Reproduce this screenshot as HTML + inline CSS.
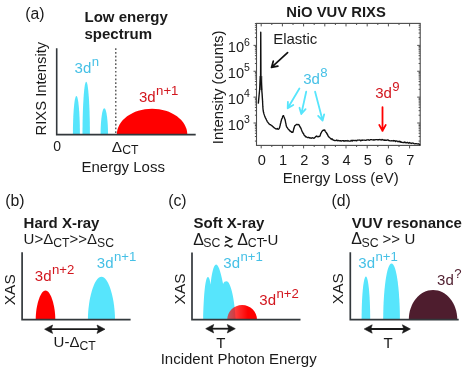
<!DOCTYPE html>
<html><head><meta charset="utf-8">
<style>
html,body{margin:0;padding:0;background:#fff;width:463px;height:371px;overflow:hidden}
svg{display:block;font-family:"Liberation Sans",sans-serif}
svg{fill:#1a1a1a;will-change:transform}
</style></head><body>
<svg width="463" height="371" viewBox="0 0 463 371">
<text x="25.2" y="19.2" font-size="15.8">(a)</text>
<text x="84.5" y="22.4" font-size="15" font-weight="bold">Low energy</text>
<text x="84.5" y="38.7" font-size="15" font-weight="bold">spectrum</text>
<text transform="translate(45.5,135.5) rotate(-90)" font-size="14.8">RIXS Intensity</text>
<path d="M72.90,134.50 C72.90,115.30 74.30,96.10 76.40,96.10 C78.50,96.10 79.90,115.30 79.90,134.50 Z" fill="#57e5fc"/>
<path d="M82.50,134.50 C82.50,108.10 83.98,81.70 86.20,81.70 C88.42,81.70 89.90,108.10 89.90,134.50 Z" fill="#57e5fc"/>
<path d="M100.60,134.50 C100.60,121.40 102.08,108.30 104.30,108.30 C106.52,108.30 108.00,121.40 108.00,134.50 Z" fill="#57e5fc"/>
<path d="M116.80,134.50 C116.80,120.25 132.58,108.70 152.05,108.70 C171.52,108.70 187.30,120.25 187.30,134.50 Z" fill="#ff0000"/>
<path d="M115.8,48.2 V134" stroke="#3a3a3a" stroke-width="1.2" stroke-dasharray="1.7,2.08"/>
<path d="M56.7,48.3 V134.6 H195.7" stroke="#33383c" stroke-width="1.6" fill="none"/>
<text x="74.6" y="72.6" font-size="15" fill="#45c0e6">3d<tspan font-size="13.2" dx="0.4" dy="-7">n</tspan></text>
<text x="139" y="102.2" font-size="15" fill="#d2161e">3d<tspan font-size="13.2" dx="0.4" dy="-7">n+1</tspan></text>
<text x="53.3" y="151.2" font-size="14">0</text>
<text x="111.8" y="151.6" font-size="15.5">Δ<tspan font-size="12.2" dy="2.8">CT</tspan></text>
<text x="81.5" y="171.5" font-size="15">Energy Loss</text>
<text x="286.3" y="16.8" font-size="14.8" font-weight="bold">NiO VUV RIXS</text>
<text transform="translate(223.1,144.2) rotate(-90)" font-size="14.95">Intensity (counts)</text>
<text x="227.8" y="129.60" font-size="14.6">10<tspan font-size="10.5" dy="-6.4">3</tspan></text>
<text x="227.8" y="103.73" font-size="14.6">10<tspan font-size="10.5" dy="-6.4">4</tspan></text>
<text x="227.8" y="77.86" font-size="14.6">10<tspan font-size="10.5" dy="-6.4">5</tspan></text>
<text x="227.8" y="51.99" font-size="14.6">10<tspan font-size="10.5" dy="-6.4">6</tspan></text>
<path d="M261.20,145.40 v3.00 M261.20,23.40 v3.00 M271.80,145.40 v1.60 M271.80,23.40 v1.60 M282.40,145.40 v3.00 M282.40,23.40 v3.00 M293.00,145.40 v1.60 M293.00,23.40 v1.60 M303.60,145.40 v3.00 M303.60,23.40 v3.00 M314.20,145.40 v1.60 M314.20,23.40 v1.60 M324.80,145.40 v3.00 M324.80,23.40 v3.00 M335.40,145.40 v1.60 M335.40,23.40 v1.60 M346.00,145.40 v3.00 M346.00,23.40 v3.00 M356.60,145.40 v1.60 M356.60,23.40 v1.60 M367.20,145.40 v3.00 M367.20,23.40 v3.00 M377.80,145.40 v1.60 M377.80,23.40 v1.60 M388.40,145.40 v3.00 M388.40,23.40 v3.00 M399.00,145.40 v1.60 M399.00,23.40 v1.60 M409.60,145.40 v3.00 M409.60,23.40 v3.00 M256.50,141.08 h-1.60 M420.20,141.08 h-1.60 M256.50,136.53 h-1.60 M420.20,136.53 h-1.60 M256.50,133.29 h-1.60 M420.20,133.29 h-1.60 M256.50,130.79 h-1.60 M420.20,130.79 h-1.60 M256.50,128.74 h-1.60 M420.20,128.74 h-1.60 M256.50,127.01 h-1.60 M420.20,127.01 h-1.60 M256.50,125.51 h-1.60 M420.20,125.51 h-1.60 M256.50,124.18 h-1.60 M420.20,124.18 h-1.60 M256.50,123.00 h-3.00 M420.20,123.00 h-3.00 M256.50,115.21 h-1.60 M420.20,115.21 h-1.60 M256.50,110.66 h-1.60 M420.20,110.66 h-1.60 M256.50,107.42 h-1.60 M420.20,107.42 h-1.60 M256.50,104.92 h-1.60 M420.20,104.92 h-1.60 M256.50,102.87 h-1.60 M420.20,102.87 h-1.60 M256.50,101.14 h-1.60 M420.20,101.14 h-1.60 M256.50,99.64 h-1.60 M420.20,99.64 h-1.60 M256.50,98.31 h-1.60 M420.20,98.31 h-1.60 M256.50,97.13 h-3.00 M420.20,97.13 h-3.00 M256.50,89.34 h-1.60 M420.20,89.34 h-1.60 M256.50,84.79 h-1.60 M420.20,84.79 h-1.60 M256.50,81.55 h-1.60 M420.20,81.55 h-1.60 M256.50,79.05 h-1.60 M420.20,79.05 h-1.60 M256.50,77.00 h-1.60 M420.20,77.00 h-1.60 M256.50,75.27 h-1.60 M420.20,75.27 h-1.60 M256.50,73.77 h-1.60 M420.20,73.77 h-1.60 M256.50,72.44 h-1.60 M420.20,72.44 h-1.60 M256.50,71.26 h-3.00 M420.20,71.26 h-3.00 M256.50,63.47 h-1.60 M420.20,63.47 h-1.60 M256.50,58.92 h-1.60 M420.20,58.92 h-1.60 M256.50,55.68 h-1.60 M420.20,55.68 h-1.60 M256.50,53.18 h-1.60 M420.20,53.18 h-1.60 M256.50,51.13 h-1.60 M420.20,51.13 h-1.60 M256.50,49.40 h-1.60 M420.20,49.40 h-1.60 M256.50,47.90 h-1.60 M420.20,47.90 h-1.60 M256.50,46.57 h-1.60 M420.20,46.57 h-1.60 M256.50,45.39 h-3.00 M420.20,45.39 h-3.00 M256.50,37.60 h-1.60 M420.20,37.60 h-1.60 M256.50,33.05 h-1.60 M420.20,33.05 h-1.60 M256.50,29.81 h-1.60 M420.20,29.81 h-1.60 M256.50,27.31 h-1.60 M420.20,27.31 h-1.60 M256.50,25.26 h-1.60 M420.20,25.26 h-1.60 M256.50,23.53 h-1.60 M420.20,23.53 h-1.60" stroke="#505050" stroke-width="1" fill="none"/>
<rect x="256.50" y="23.40" width="163.70" height="122.00" fill="none" stroke="#4a4a4a" stroke-width="1.1"/>
<text x="261.80" y="164.9" font-size="14.6" text-anchor="middle">0</text>
<text x="283.00" y="164.9" font-size="14.6" text-anchor="middle">1</text>
<text x="304.20" y="164.9" font-size="14.6" text-anchor="middle">2</text>
<text x="325.40" y="164.9" font-size="14.6" text-anchor="middle">3</text>
<text x="346.60" y="164.9" font-size="14.6" text-anchor="middle">4</text>
<text x="367.80" y="164.9" font-size="14.6" text-anchor="middle">5</text>
<text x="389.00" y="164.9" font-size="14.6" text-anchor="middle">6</text>
<text x="410.20" y="164.9" font-size="14.6" text-anchor="middle">7</text>
<text x="282.8" y="182.6" font-size="15">Energy Loss (eV)</text>
<path d="M259.2,76 L262.4,76 L262.6,90 L259.4,90 Z" fill="#8a8a8a"/>
<path d="M258.3,103.6 L259.6,90 L260.6,76 L260.75,32.2 L260.95,76 L261.6,88 L262.1,94 L262.5,100" stroke="#111" stroke-width="1.4" fill="none" stroke-linejoin="round"/>
<path d="M262.50,99.92 L262.52,100.36 L262.54,100.75 L262.57,101.32 L262.59,101.90 L262.62,102.36 L262.65,103.00 L262.68,103.95 L262.72,104.49 L262.76,105.21 L262.80,106.17 L262.84,106.72 L262.89,107.53 L262.94,108.09 L262.99,108.76 L263.04,109.19 L263.10,109.84 L263.21,110.71 L263.33,111.32 L263.45,112.02 L263.59,112.59 L263.73,112.96 L263.88,113.69 L264.04,114.16 L264.22,114.60 L264.40,115.06 L264.62,115.94 L264.87,116.45 L265.13,117.14 L265.41,117.79 L265.68,118.33 L265.96,118.96 L266.24,119.35 L266.50,119.99 L266.83,120.54 L267.15,121.31 L267.46,121.88 L267.79,122.20 L268.13,122.72 L268.50,123.22 L269.00,123.93 L269.53,124.18 L270.09,124.68 L270.65,124.74 L271.20,125.31 L271.74,125.61 L272.28,125.99 L272.82,126.62 L273.36,127.01 L273.90,127.66 L274.44,127.82 L274.98,128.39 L275.52,128.64 L276.06,129.01 L276.60,128.85 L277.29,128.53 L277.99,129.22 L278.67,129.11 L279.30,128.36 L279.49,127.67 L279.67,127.32 L279.85,126.30 L280.02,126.23 L280.18,125.32 L280.34,124.36 L280.50,123.44 L280.66,123.43 L280.82,122.86 L280.97,121.38 L281.14,121.41 L281.30,120.52 L281.55,119.51 L281.81,118.86 L282.07,118.53 L282.33,117.91 L282.58,116.54 L282.83,116.55 L283.07,115.67 L283.30,116.10 L283.59,115.80 L283.86,116.63 L284.11,117.28 L284.37,117.58 L284.63,118.86 L284.90,119.13 L285.04,119.41 L285.17,120.43 L285.30,120.53 L285.43,121.32 L285.56,122.19 L285.69,123.06 L285.83,123.35 L285.98,123.93 L286.14,125.33 L286.31,125.45 L286.50,126.60 L286.70,127.06 L287.04,127.27 L287.43,127.96 L287.85,128.58 L288.29,129.20 L288.74,129.63 L289.18,130.02 L289.61,130.46 L290.00,131.10 L290.59,131.27 L291.15,131.75 L291.69,132.40 L292.21,132.11 L292.70,131.92 L292.93,132.20 L293.15,131.31 L293.36,130.72 L293.55,129.54 L293.75,129.16 L293.95,128.55 L294.14,127.30 L294.35,127.16 L294.57,126.58 L294.80,125.60 L295.30,125.44 L295.84,124.82 L296.40,124.70 L296.96,124.27 L297.50,124.59 L298.03,124.78 L298.57,124.48 L299.10,125.01 L299.61,126.17 L300.10,127.12 L300.38,126.97 L300.65,127.72 L300.90,128.46 L301.14,128.86 L301.39,129.57 L301.64,130.19 L301.91,130.88 L302.20,131.69 L302.51,132.01 L302.83,132.67 L303.17,133.62 L303.51,133.53 L303.86,134.57 L304.21,135.24 L304.56,135.32 L304.90,135.65 L305.38,136.69 L305.80,136.56 L306.25,136.79 L306.82,137.24 L307.60,137.68 L308.11,137.24 L308.70,137.53 L309.36,137.62 L310.07,138.15 L310.80,137.85 L311.53,138.27 L312.24,137.67 L312.90,137.83 L313.49,138.09 L314.00,138.25 L314.78,137.62 L315.35,137.03 L315.80,136.50 L316.22,136.47 L316.70,135.92 L317.39,136.52 L318.08,136.82 L318.76,136.42 L319.40,136.30 L319.70,136.44 L319.98,135.80 L320.25,135.37 L320.52,134.31 L320.78,133.45 L321.05,132.96 L321.32,132.84 L321.60,131.89 L322.07,131.32 L322.54,130.79 L323.02,130.31 L323.51,129.99 L324.00,130.38 L324.41,129.84 L324.82,130.02 L325.23,131.32 L325.65,131.81 L326.07,132.51 L326.50,132.64 L326.79,133.56 L327.08,134.07 L327.37,134.00 L327.66,135.07 L327.95,135.75 L328.26,136.18 L328.56,136.61 L328.88,136.89 L329.20,137.36 L329.69,137.75 L330.19,137.99 L330.70,138.76 L331.23,138.74 L331.80,139.44 L332.40,138.99 L332.94,139.97 L333.48,139.97 L334.05,140.35 L334.65,140.48 L335.28,140.63 L335.96,140.46 L336.70,140.06 L337.26,140.78 L337.85,140.32 L338.48,140.48 L339.13,140.84 L339.79,140.74 L340.47,140.66 L341.16,141.15 L341.85,140.87 L342.53,140.64 L343.20,140.58 L343.79,141.14 L344.37,140.80 L344.95,141.09 L345.52,140.71 L346.09,140.57 L346.68,140.88 L347.28,141.13 L347.91,140.54 L348.56,141.09 L349.26,141.20 L350.00,141.08 L350.54,141.08 L351.10,140.33 L351.68,140.87 L352.28,141.05 L352.89,140.30 L353.52,140.47 L354.15,140.44 L354.80,140.65 L355.45,140.53 L356.11,140.54 L356.77,140.79 L357.43,140.06 L358.08,140.08 L358.73,140.12 L359.37,140.09 L360.00,140.01 L360.63,140.80 L361.27,140.67 L361.92,139.95 L362.57,140.30 L363.23,140.11 L363.88,140.08 L364.54,140.09 L365.19,140.33 L365.83,140.25 L366.47,140.02 L367.10,139.84 L367.71,139.94 L368.31,139.73 L368.89,140.10 L369.46,140.22 L370.00,139.89 L370.75,139.59 L371.44,139.64 L372.10,139.78 L372.72,139.95 L373.33,140.08 L373.92,139.68 L374.51,140.03 L375.10,139.85 L375.71,139.66 L376.34,139.59 L377.00,139.70 L377.59,139.88 L378.19,139.64 L378.80,139.89 L379.42,139.70 L380.05,139.52 L380.68,139.81 L381.32,139.98 L381.95,139.44 L382.58,139.79 L383.20,139.82 L383.81,140.27 L384.41,140.36 L385.00,139.89 L385.67,140.41 L386.32,140.36 L386.95,139.94 L387.58,140.18 L388.19,139.93 L388.81,140.61 L389.42,140.55 L390.05,140.82 L390.68,140.81 L391.33,140.77 L392.00,140.91 L392.58,140.83 L393.16,140.49 L393.74,141.00 L394.32,140.56 L394.91,140.77 L395.51,141.42 L396.12,140.85 L396.73,140.98 L397.36,141.08 L398.00,141.87 L398.65,141.33 L399.32,141.28 L400.00,142.11 L400.57,141.53 L401.15,142.25 L401.75,142.17 L402.36,142.39 L402.98,142.57 L403.60,142.31 L404.24,142.58 L404.88,141.97 L405.52,142.70 L406.16,142.55 L406.81,142.81 L407.45,142.34 L408.10,142.99 L408.74,143.24 L409.37,142.53 L410.00,142.84 L410.64,143.14 L411.32,143.46 L412.02,143.02 L412.73,143.06 L413.46,143.22 L414.19,143.64 L414.91,143.86 L415.62,143.63 L416.32,143.70 L416.98,143.81 L417.61,143.85 L418.20,143.99 L418.74,143.76 L419.23,144.20 L419.65,144.68 L420.00,144.22" stroke="#111" stroke-width="1.35" fill="none" stroke-linejoin="round"/>
<text x="273.2" y="44.3" font-size="15">Elastic</text>
<path d="M287.60,52.60 L271.50,67.40 M273.28,61.15 L271.50,67.40 L277.88,66.15" stroke="#111" stroke-width="1.70" fill="none" stroke-linecap="round" stroke-linejoin="round"/>
<text x="303.2" y="84" font-size="15" fill="#45c0e6">3d<tspan font-size="13.2" dx="0.4" dy="-7">8</tspan></text>
<path d="M299.40,88.50 L287.70,108.30 M287.92,101.80 L287.70,108.30 L293.28,104.97" stroke="#57e5fc" stroke-width="1.80" fill="none" stroke-linecap="round" stroke-linejoin="round"/>
<path d="M306.20,91.70 L301.30,114.00 M299.48,107.76 L301.30,114.00 L305.57,109.10" stroke="#57e5fc" stroke-width="1.80" fill="none" stroke-linecap="round" stroke-linejoin="round"/>
<path d="M315.10,91.70 L322.60,120.60 M318.15,115.86 L322.60,120.60 L324.18,114.30" stroke="#57e5fc" stroke-width="1.80" fill="none" stroke-linecap="round" stroke-linejoin="round"/>
<text x="375.2" y="97.8" font-size="15" fill="#d2161e">3d<tspan font-size="13.2" dx="0.4" dy="-7">9</tspan></text>
<path d="M382.50,107.20 L382.50,130.90 M379.24,124.93 L382.50,130.90 L385.76,124.93" stroke="#ff0000" stroke-width="1.80" fill="none" stroke-linecap="round" stroke-linejoin="round"/>
<text x="5.2" y="205.6" font-size="15.8">(b)</text>
<text x="23.6" y="227.9" font-size="15" font-weight="bold">Hard X-ray</text>
<text x="23.6" y="244.3" font-size="15">U&gt;Δ<tspan font-size="12.2" dy="2.6">CT</tspan><tspan dy="-2.6">&gt;&gt;Δ</tspan><tspan font-size="12.2" dy="2.6">SC</tspan></text>
<text transform="translate(15.1,305.3) rotate(-90)" font-size="15.5">XAS</text>
<path d="M35.70,319.60 C35.70,306.46 40.01,290.40 45.50,290.40 C50.99,290.40 55.30,306.46 55.30,319.60 Z" fill="#ff0000"/>
<path d="M87.90,319.60 C87.90,300.34 93.86,276.80 101.45,276.80 C109.04,276.80 115.00,300.34 115.00,319.60 Z" fill="#57e5fc"/>
<path d="M22.1,252.3 V319.6 H130.6" stroke="#33383c" stroke-width="1.7" fill="none"/>
<text x="34.8" y="280.7" font-size="15" fill="#d2161e">3d<tspan font-size="13.2" dx="0.4" dy="-7">n+2</tspan></text>
<text x="96.8" y="267.7" font-size="15" fill="#45c0e6">3d<tspan font-size="13.2" dx="0.4" dy="-7">n+1</tspan></text>
<path d="M47.60,329.20 H102.00" stroke="#1a1a1a" stroke-width="1.8" fill="none"/><path d="M44.60,329.20 L52.60,325.00 L51.20,329.20 L52.60,333.40 Z M105.00,329.20 L97.00,325.00 L98.40,329.20 L97.00,333.40 Z" fill="#1a1a1a" stroke="#1a1a1a" stroke-width="0.6" stroke-linejoin="round"/>
<text x="53.6" y="346.9" font-size="15">U-Δ<tspan font-size="12.2" dy="2.6">CT</tspan></text>
<text x="168.2" y="205.6" font-size="15.8">(c)</text>
<text x="193.5" y="227.9" font-size="15" font-weight="bold">Soft X-ray</text>
<text x="193.2" y="244.6" font-size="16">Δ</text><text x="203.2" y="247" font-size="12.3">SC</text>
<path d="M225.1,236.5 L231.2,239.4 L225.1,242.3 M224.6,246.5 C225.8,244.6 227.4,244.5 228.6,245.9 C229.6,247.3 231.5,247.6 232.6,245.4" stroke="#1a1a1a" stroke-width="1.4" fill="none" stroke-linejoin="miter"/>
<text x="237.2" y="244.6" font-size="16">Δ</text><text x="247.8" y="247" font-size="12.3">CT</text><text x="262.6" y="244.6" font-size="15">-U</text>
<text transform="translate(184.8,304.4) rotate(-90)" font-size="15.5">XAS</text>
<path d="M203.2,319.5 C203.6,300 205,277 207.9,277 C209.5,277 210.2,282 210.6,284.5 C211.5,275 213.5,264.5 216.1,264.5 C219,264.5 221.5,276 223.1,284 C223.8,282 225,281.3 226.5,281.3 C230.8,281.3 234.6,300 235.7,319.6 Z" fill="#57e5fc"/>
<defs><linearGradient id="rg" gradientUnits="userSpaceOnUse" x1="227" y1="0" x2="248" y2="0"><stop offset="0" stop-color="#ff0000" stop-opacity="0.6"/><stop offset="1" stop-color="#ff0000" stop-opacity="1"/></linearGradient></defs>
<path d="M227.20,319.60 C227.20,311.54 233.87,305.00 242.10,305.00 C250.33,305.00 257.00,311.54 257.00,319.60 Z" fill="url(#rg)"/>
<path d="M192,252.6 V319.7 H300.5" stroke="#33383c" stroke-width="1.7" fill="none"/>
<text x="223.3" y="268" font-size="15" fill="#45c0e6">3d<tspan font-size="13.2" dx="0.4" dy="-7">n+1</tspan></text>
<text x="259.3" y="305" font-size="15" fill="#d2161e">3d<tspan font-size="13.2" dx="0.4" dy="-7">n+2</tspan></text>
<path d="M208.70,328.70 H232.30" stroke="#1a1a1a" stroke-width="1.8" fill="none"/><path d="M205.70,328.70 L213.70,324.50 L212.30,328.70 L213.70,332.90 Z M235.30,328.70 L227.30,324.50 L228.70,328.70 L227.30,332.90 Z" fill="#1a1a1a" stroke="#1a1a1a" stroke-width="0.6" stroke-linejoin="round"/>
<text x="220.8" y="348" font-size="15" text-anchor="middle">T</text>
<text x="160.7" y="363.8" font-size="15">Incident Photon Energy</text>
<text x="331.5" y="205.6" font-size="15.8">(d)</text>
<text x="351.8" y="228" font-size="15" font-weight="bold">VUV resonance</text>
<text x="351.2" y="244.2" font-size="16">Δ</text><text x="361.6" y="246.6" font-size="12.3">SC</text><text x="382.4" y="244.2" font-size="15">&gt;&gt;</text><text x="404.6" y="244.2" font-size="15">U</text>
<text transform="translate(342.6,304.2) rotate(-90)" font-size="15.5">XAS</text>
<path d="M361.60,319.60 C361.60,298.00 363.32,276.40 365.90,276.40 C368.48,276.40 370.20,298.00 370.20,319.60 Z" fill="#57e5fc"/>
<path d="M383.20,319.60 C383.20,291.55 386.54,263.50 391.55,263.50 C396.56,263.50 399.90,291.55 399.90,319.60 Z" fill="#57e5fc"/>
<path d="M408.80,319.60 C408.80,303.20 419.66,289.90 433.05,289.90 C446.44,289.90 457.30,303.20 457.30,319.60 Z" fill="#4e1d2e"/>
<path d="M350.3,252.2 V319.7 H458.7" stroke="#33383c" stroke-width="1.7" fill="none"/>
<text x="358.3" y="267.5" font-size="15" fill="#45c0e6">3d<tspan font-size="13.2" dx="0.4" dy="-7">n+1</tspan></text>
<text x="437.1" y="284.5" font-size="15" fill="#4e1d2e">3d<tspan font-size="13.2" dx="0.4" dy="-7">?</tspan></text>
<path d="M367.20,329.00 H407.40" stroke="#1a1a1a" stroke-width="1.8" fill="none"/><path d="M364.20,329.00 L372.20,324.80 L370.80,329.00 L372.20,333.20 Z M410.40,329.00 L402.40,324.80 L403.80,329.00 L402.40,333.20 Z" fill="#1a1a1a" stroke="#1a1a1a" stroke-width="0.6" stroke-linejoin="round"/>
<text x="388" y="348.4" font-size="15" text-anchor="middle">T</text>
</svg>
</body></html>
